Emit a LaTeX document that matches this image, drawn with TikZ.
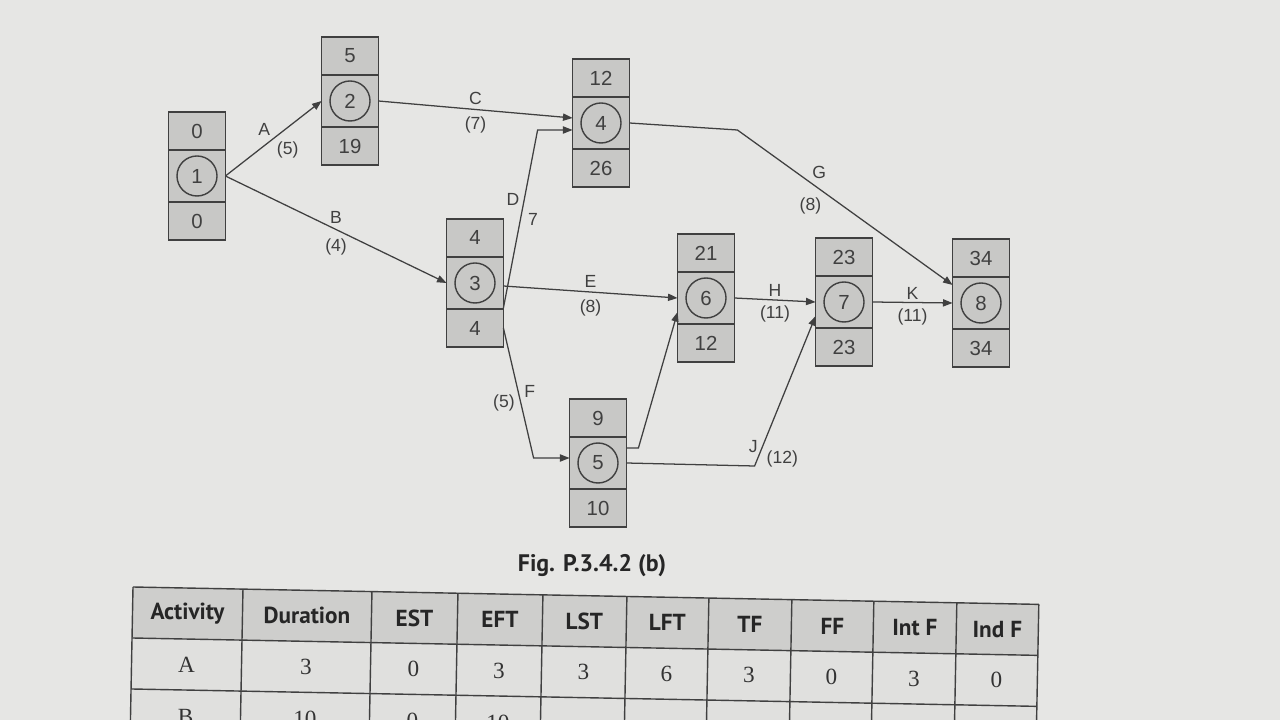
\documentclass[tikz,border=0pt]{standalone}
\usepackage{fontspec}
\setmainfont{Liberation Serif}
\setsansfont{Liberation Sans}
\newfontfamily\headfont{PT Sans}
\usetikzlibrary{positioning,arrows.meta,calc}
\definecolor{PageBg}{RGB}{230,230,228}
\definecolor{CellFill}{RGB}{200,200,198}
\definecolor{HeadFill}{RGB}{206,206,204}
\definecolor{BodyFill}{RGB}{224,224,222}
\definecolor{InkGray}{RGB}{64,64,64}

% one event box: name, position, earliest, number, latest
\newcommand{\evnode}[5]{%
  \node[midcell] (#1) at (#2) {};
  \node[numcirc] (#1c) at (#1) {#4};
  \node[cell,above=0pt of #1] (#1t) {#3};
  \node[cell,below=0pt of #1] (#1b) {#5};
}

\begin{document}
\begin{tikzpicture}[
x=0.025cm,y=-0.025cm,
midcell/.style={rectangle,draw=InkGray,fill=CellFill,line width=1pt,minimum width=1.42cm,minimum height=1.3cm,outer sep=0pt},
cell/.style={midcell,minimum height=0.95cm,text=InkGray,font=\sffamily\fontsize{14.5}{16}\selectfont},
numcirc/.style={circle,draw=InkGray,line width=1pt,minimum size=1.0cm,inner sep=0pt,text=InkGray,font=\sffamily\fontsize{14.5}{16}\selectfont},
arr/.style={-{Triangle[length=2.4mm,width=1.8mm]},line width=0.9pt,draw=InkGray},
lbl/.style={inner sep=2pt,text=InkGray,font=\sffamily\fontsize{12.5}{14}\selectfont},
tabline/.style={line width=1pt,draw=InkGray},
headtxt/.style={text=black!85,font=\headfont\bfseries\fontsize{16.5}{19}\selectfont},
celltxt/.style={text=black!80,font=\rmfamily\fontsize{16.5}{19}\selectfont}
]
\useasboundingbox (0,0) rectangle (1280,720);
\clip (0,0) rectangle (1280,720);
\fill[PageBg] (0,0) rectangle (1280,720);

% network
\evnode{n1}{197,176}{0}{1}{0}
\evnode{n2}{350,101}{5}{2}{19}
\evnode{n4}{601,123}{12}{4}{26}
\evnode{n3}{475,283}{4}{3}{4}
\evnode{n6}{706,298}{21}{6}{12}
\evnode{n7}{844,302}{23}{7}{23}
\evnode{n8}{981,303}{34}{8}{34}
\evnode{n5}{598,463}{9}{5}{10}

\draw[arr] (n1.east) -- node[lbl,above left=0pt]{A} node[lbl,below right=0pt]{(5)} (n2.west);
\draw[arr] (n1.east) -- node[lbl,above=2pt]{B} node[lbl,below=4pt]{(4)} (n3.west);
\draw[arr] (n2.east) -- node[lbl,above=1pt]{C} node[lbl,below=3pt]{(7)} ($(n4.west)+(0,-5)$);
\draw[arr] ($(n3.east)+(0,25)$) -- node[lbl,pos=0.61,left=1pt]{D} node[lbl,pos=0.5,right=3pt]{7} ($(n4.west)+(-35,7)$) -- ($(n4.west)+(0,7)$);
\draw[arr] ($(n3.east)+(0,3)$) -- node[lbl,above=1pt]{E} node[lbl,below=3pt]{(8)} (n6.west);
\draw[arr] ($(n3.east)+(0,45)$) -- node[lbl,pos=0.49,right=2pt]{F} node[lbl,pos=0.58,left=2pt]{(5)} ($(n5.west)+(-36,-5)$) -- ($(n5.west)+(0,-5)$);
\draw[arr] ($(n5.east)+(0,-15)$) -- ++(12,0) -- ($(n6.west)+(0,14)$);
\draw[arr] (n5.east) -- ($(n7.west)+(-61,164)$) -- node[lbl,pos=0.13,left=1pt]{J} node[lbl,pos=0.05,right=4pt]{(12)} ($(n7.west)+(0,14)$);
\draw[arr] (n6.east) -- node[lbl,above=0pt]{H} node[lbl,below=2pt]{(11)} (n7.west);
\draw[arr] (n7.east) -- node[lbl,above=0pt]{K} node[lbl,below=2pt]{(11)} (n8.west);
\draw[arr] (n4.east) -- ($(n4.east)+(108,7)$) -- node[lbl,pos=0.38,above=5pt]{G} node[lbl,pos=0.41,below left=1pt]{(8)} ($(n8.west)+(0,-18)$);

\node[text=black!85,font=\headfont\bfseries\fontsize{17}{20}\selectfont] (cap) at (592,566) {Fig. P.3.4.2 (b)};

% table
\begin{scope}[rotate around={-1.1:(133,587)}]
\fill[HeadFill] (133,587) rectangle (1039,638);
\fill[BodyFill] (133,638) rectangle (1039,760);
\foreach \xl in {133,243,372,458,543,627,709,792,874,957,1039}
  \draw[tabline] (\xl,587) -- (\xl,760);
\foreach \yl in {587,638,689}
  \draw[tabline] (133,\yl) -- (1039,\yl);
\foreach \txt/\xc [count=\i] in {Activity/188,Duration/307.5,EST/415,EFT/500.5,LST/585,LFT/668,TF/750.5,FF/833,Int F/915.5,Ind F/998}
  \node[headtxt] (h\i) at (\xc,612.5) {\txt};
\foreach \txt/\xc [count=\i] in {A/188,3/307.5,0/415,3/500.5,3/585,6/668,3/750.5,0/833,3/915.5,0/998}
  \node[celltxt] (a\i) at (\xc,663.5) {\txt};
\foreach \txt/\xc [count=\i] in {B/188,10/307.5,0/415,10/500.5}
  \node[celltxt] (b\i) at (\xc,716) {\txt};
\end{scope}
\end{tikzpicture}
\end{document}
